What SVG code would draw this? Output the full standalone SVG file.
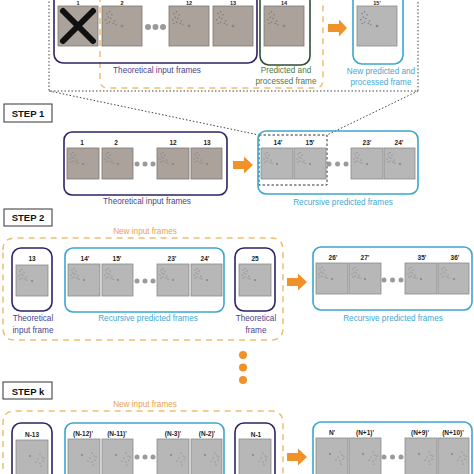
<svg xmlns="http://www.w3.org/2000/svg" xmlns:xlink="http://www.w3.org/1999/xlink" width="474" height="474" viewBox="0 0 474 474">
<style>
text{font-family:"Liberation Sans",Arial,sans-serif}
.num{font-size:6.5px;font-weight:bold;fill:#222;text-anchor:middle}
.tnum{font-size:5.5px;font-weight:bold;fill:#222;text-anchor:middle}
.cap{font-size:8.2px;text-anchor:middle}
.pur{fill:#4b3f8c}.cya{fill:#3fa8d2}.grn{fill:#4d7a48}.org{fill:#e9a24e}
.step{font-size:9.5px;font-weight:bold;fill:#111;text-anchor:middle}
.stepbox{fill:#fff;stroke:#333;stroke-width:1}
.pbox{fill:none;stroke:#2d2466;stroke-width:1.6}
.cbox{fill:none;stroke:#3ba7cc;stroke-width:1.6}
.gbox{fill:none;stroke:#2e4f36;stroke-width:1.6}
.ft{fill:#aaa29b;stroke:#7d7671;stroke-width:0.8}
.fg{fill:#b7b7b7;stroke:#8a8a8a;stroke-width:0.8}
.dot{fill:#9a9a9a}
.arr{fill:#f0912a}
.odash{fill:none;stroke:#f0bd6e;stroke-width:1.5;stroke-dasharray:6 5}
.kdot{fill:none;stroke:#444;stroke-width:1;stroke-dasharray:1.5 2}
.kdash{fill:none;stroke:#333;stroke-width:1;stroke-dasharray:2.5 2}
.odot{fill:#f0912a}
</style>
<defs>
<g id="scA" fill="#7a7a7a">
<circle cx="4" cy="6" r="0.6"/><circle cx="5" cy="9" r="0.6"/><circle cx="3" cy="11" r="0.6"/><circle cx="7" cy="10" r="0.6"/><circle cx="6" cy="13" r="0.6"/><circle cx="9" cy="14" r="0.6"/><circle cx="4" cy="14" r="0.6"/><circle cx="8" cy="7" r="0.6"/><circle cx="10" cy="12" r="0.6"/><circle cx="6" cy="4.5" r="0.6"/><circle cx="11" cy="15" r="0.6"/>
<circle cx="16" cy="16" r="1.1" fill="#888"/>
</g>
<g id="scB" fill="#7a7a7a">
<circle cx="24" cy="14" r="0.6"/><circle cx="26" cy="17" r="0.6"/><circle cx="22" cy="19" r="0.6"/><circle cx="27" cy="21" r="0.6"/><circle cx="24" cy="23" r="0.6"/><circle cx="20" cy="22" r="0.6"/><circle cx="28" cy="18" r="0.6"/><circle cx="25" cy="26" r="0.6"/>
<circle cx="14" cy="16" r="1.1" fill="#888"/>
</g>
</defs>

<g id="connectors">
<path class="kdot" d="M49,-2 V91 H418 V-2"/>
<line class="kdot" x1="49" y1="91" x2="259" y2="135"/>
<line class="kdot" x1="418" y1="91" x2="327" y2="135"/>
<rect class="kdash" x="259" y="135" width="68" height="50"/>
<path class="odash" d="M100,-4 V80 Q100,88 108,88 H315 Q323,88 323,80 V-4"/>
<polygon class="arr" points="328,24 339,24 339,19.5 347,28 339,36.5 339,32 328,32"/>
<polygon class="arr" points="233,161 244,161 244,156.5 253,165 244,173.5 244,169 233,169"/>
<polygon class="arr" points="287,278 298,278 298,273.5 307,282 298,290.5 298,286 287,286"/>
<polygon class="arr" points="287,453 298,453 298,448.5 307,457 298,465.5 298,461 287,461"/>
<path class="odash" d="M3,250 Q3,238 15,238 H271 Q283,238 283,250 V328 Q283,340 271,340 H15 Q3,340 3,328 Z"/>
<path class="odash" d="M3,480 V423 Q3,411 15,411 H271 Q283,411 283,423 V480"/>
<circle class="odot" cx="243" cy="355" r="4"/>
<circle class="odot" cx="243" cy="367.5" r="4"/>
<circle class="odot" cx="243" cy="380" r="4"/>
</g>

<g id="top-row">
<rect class="pbox" x="54" y="-12" width="203" height="75" rx="9"/>
<rect class="ft" x="58" y="6" width="40" height="40"/>
<line x1="63" y1="11" x2="93" y2="41" stroke="#111" stroke-width="6" stroke-linecap="round"/>
<line x1="93" y1="11" x2="63" y2="41" stroke="#111" stroke-width="6" stroke-linecap="round"/>
<rect class="ft" x="102" y="6" width="40" height="40"/><use href="#scA" transform="translate(102,6) scale(1.25)"/>
<circle class="dot" cx="148" cy="27" r="3"/><circle class="dot" cx="155.5" cy="27" r="3"/><circle class="dot" cx="163" cy="27" r="3"/>
<rect class="ft" x="169" y="6" width="40" height="40"/><use href="#scA" transform="translate(169,6) scale(1.25)"/>
<rect class="ft" x="213" y="6" width="40" height="40"/><use href="#scA" transform="translate(213,6) scale(1.25)"/>
<text class="tnum" x="78" y="5">1</text><text class="tnum" x="122" y="5">2</text><text class="tnum" x="189" y="5">12</text><text class="tnum" x="233" y="5">13</text>
<text class="cap pur" x="157" y="73">Theoretical input frames</text>
</g>
<g id="top-predicted">
<rect class="gbox" x="260" y="-12" width="50" height="77" rx="9"/>
<rect class="ft" x="264" y="6" width="40" height="40"/><use href="#scA" transform="translate(264,6) scale(1.25)"/>
<text class="tnum" x="284" y="5">14</text>
<text class="cap grn" x="286" y="73">Predicted and</text>
<text class="cap grn" x="286" y="84">processed frame</text>
</g>
<g id="top-new">
<rect class="cbox" x="353" y="-12" width="50" height="76" rx="9"/>
<rect class="fg" x="357" y="6" width="40" height="40"/><use href="#scA" transform="translate(357,6) scale(1.25)"/>
<text class="tnum" x="377" y="5">15'</text>
<text class="cap cya" x="381" y="74">New predicted and</text>
<text class="cap cya" x="381" y="85">processed frame</text>
</g>

<g id="step1-label"><rect class="stepbox" x="4" y="104" width="48" height="18"/><text class="step" x="28" y="116.5">STEP 1</text></g>
<g id="step1-input">
<rect class="pbox" x="64" y="132" width="163" height="63" rx="8"/>
<rect class="ft" x="67" y="148" width="32" height="31"/><use href="#scA" x="67" y="148"/>
<rect class="ft" x="102" y="148" width="31" height="31"/><use href="#scA" x="102" y="148"/>
<circle class="dot" cx="137" cy="164" r="2.5"/><circle class="dot" cx="145" cy="164" r="2.5"/><circle class="dot" cx="153" cy="164" r="2.5"/>
<rect class="ft" x="157" y="148" width="32" height="31"/><use href="#scA" x="157" y="148"/>
<rect class="ft" x="191" y="148" width="31" height="31"/><use href="#scA" x="191" y="148"/>
<text class="num" x="82" y="145">1</text><text class="num" x="116" y="145">2</text><text class="num" x="173" y="145">12</text><text class="num" x="207" y="145">13</text>
<text class="cap pur" x="147" y="204">Theoretical input frames</text>
</g>
<g id="step1-recursive">
<rect class="cbox" x="258" y="131" width="160" height="63" rx="8"/>
<rect class="fg" x="261" y="148" width="32" height="31"/><use href="#scA" x="261" y="148"/>
<rect class="fg" x="294" y="148" width="32" height="31"/><use href="#scA" x="294" y="148"/>
<circle class="dot" cx="329" cy="164" r="2.5"/><circle class="dot" cx="337.5" cy="164" r="2.5"/><circle class="dot" cx="346" cy="164" r="2.5"/>
<rect class="fg" x="351" y="148" width="32" height="31"/><use href="#scA" x="351" y="148"/>
<rect class="fg" x="384" y="148" width="31" height="31"/><use href="#scA" x="384" y="148"/>
<text class="num" x="278" y="145">14'</text><text class="num" x="310" y="145">15'</text><text class="num" x="367" y="145">23'</text><text class="num" x="399" y="145">24'</text>
<text class="cap cya" x="343" y="205">Recursive predicted frames</text>
</g>

<g id="step2-label"><rect class="stepbox" x="4" y="209" width="48" height="17"/><text class="step" x="28" y="221">STEP 2</text></g>
<text class="cap org" x="145" y="234">New input frames</text>
<g id="step2-theo13">
<rect class="pbox" x="12" y="248" width="40" height="63" rx="9"/>
<rect class="fg" x="16" y="265" width="32" height="31"/><use href="#scA" x="16" y="265"/>
<text class="num" x="32" y="261">13</text>
<text class="cap pur" x="33" y="321">Theoretical</text>
<text class="cap pur" x="33" y="333">input frame</text>
</g>
<g id="step2-recursive">
<rect class="cbox" x="65" y="248" width="159" height="64" rx="8"/>
<rect class="fg" x="68" y="264" width="32" height="32"/><use href="#scA" x="68" y="264"/>
<rect class="fg" x="102" y="264" width="31" height="32"/><use href="#scA" x="102" y="264"/>
<circle class="dot" cx="137" cy="281" r="2.5"/><circle class="dot" cx="145" cy="281" r="2.5"/><circle class="dot" cx="153" cy="281" r="2.5"/>
<rect class="fg" x="157" y="264" width="32" height="32"/><use href="#scA" x="157" y="264"/>
<rect class="fg" x="191" y="264" width="31" height="32"/><use href="#scA" x="191" y="264"/>
<text class="num" x="85" y="261">14'</text><text class="num" x="117" y="261">15'</text><text class="num" x="172" y="261">23'</text><text class="num" x="205" y="261">24'</text>
<text class="cap cya" x="148" y="321">Recursive predicted frames</text>
</g>
<g id="step2-theo25">
<rect class="pbox" x="235" y="248" width="40" height="63" rx="9"/>
<rect class="fg" x="239" y="264" width="32" height="32"/><use href="#scA" x="239" y="264"/>
<text class="num" x="255" y="261">25</text>
<text class="cap pur" x="256" y="321">Theoretical</text>
<text class="cap pur" x="256" y="333">frame</text>
</g>
<g id="step2-output">
<rect class="cbox" x="313" y="247" width="159" height="63" rx="8"/>
<rect class="fg" x="316" y="263" width="32" height="31"/><use href="#scA" x="316" y="263"/>
<rect class="fg" x="349" y="263" width="32" height="31"/><use href="#scA" x="349" y="263"/>
<circle class="dot" cx="384" cy="280" r="2.5"/><circle class="dot" cx="392.5" cy="280" r="2.5"/><circle class="dot" cx="401" cy="280" r="2.5"/>
<rect class="fg" x="405" y="263" width="32" height="31"/><use href="#scA" x="405" y="263"/>
<rect class="fg" x="438" y="263" width="31" height="31"/><use href="#scA" x="438" y="263"/>
<text class="num" x="333" y="260">26'</text><text class="num" x="365" y="260">27'</text><text class="num" x="422" y="260">35'</text><text class="num" x="455" y="260">36'</text>
<text class="cap cya" x="393" y="321">Recursive predicted frames</text>
</g>

<g id="stepk-label"><rect class="stepbox" x="3" y="382" width="49" height="17"/><text class="step" x="28" y="394.5">STEP k</text></g>
<text class="cap org" x="145" y="407">New input frames</text>
<g id="stepk-theoN13">
<rect class="pbox" x="12" y="423" width="40" height="70" rx="9"/>
<rect class="fg" x="16" y="440" width="32" height="40"/><use href="#scB" x="16" y="440"/>
<text class="num" x="32" y="437">N-13</text>
</g>
<g id="stepk-recursive">
<rect class="cbox" x="65" y="423" width="159" height="70" rx="8"/>
<rect class="fg" x="68" y="439" width="32" height="40"/><use href="#scB" x="68" y="439"/>
<rect class="fg" x="102" y="439" width="31" height="40"/><use href="#scB" x="102" y="439"/>
<circle class="dot" cx="137" cy="457" r="2.5"/><circle class="dot" cx="145" cy="457" r="2.5"/><circle class="dot" cx="153" cy="457" r="2.5"/>
<rect class="fg" x="157" y="439" width="32" height="40"/><use href="#scB" x="157" y="439"/>
<rect class="fg" x="191" y="439" width="31" height="40"/><use href="#scB" x="191" y="439"/>
<text class="num" x="83" y="436">(N-12)'</text><text class="num" x="117" y="436">(N-11)'</text><text class="num" x="173" y="436">(N-3)'</text><text class="num" x="207" y="436">(N-2)'</text>
</g>
<g id="stepk-theoN1">
<rect class="pbox" x="235" y="423" width="40" height="70" rx="9"/>
<rect class="fg" x="239" y="439" width="32" height="40"/><use href="#scB" x="239" y="439"/>
<text class="num" x="256" y="437">N-1</text>
</g>
<g id="stepk-output">
<rect class="cbox" x="313" y="422" width="159" height="70" rx="8"/>
<rect class="fg" x="316" y="438" width="32" height="40"/><use href="#scB" x="316" y="438"/>
<rect class="fg" x="349" y="438" width="32" height="40"/><use href="#scB" x="349" y="438"/>
<circle class="dot" cx="384" cy="457" r="2.5"/><circle class="dot" cx="392.5" cy="457" r="2.5"/><circle class="dot" cx="401" cy="457" r="2.5"/>
<rect class="fg" x="405" y="438" width="32" height="40"/><use href="#scB" x="405" y="438"/>
<rect class="fg" x="438" y="438" width="31" height="40"/><use href="#scB" x="438" y="438"/>
<text class="num" x="332" y="435">N'</text><text class="num" x="365" y="435">(N+1)'</text><text class="num" x="420" y="435">(N+9)'</text><text class="num" x="453" y="435">(N+10)'</text>
</g>
</svg>
